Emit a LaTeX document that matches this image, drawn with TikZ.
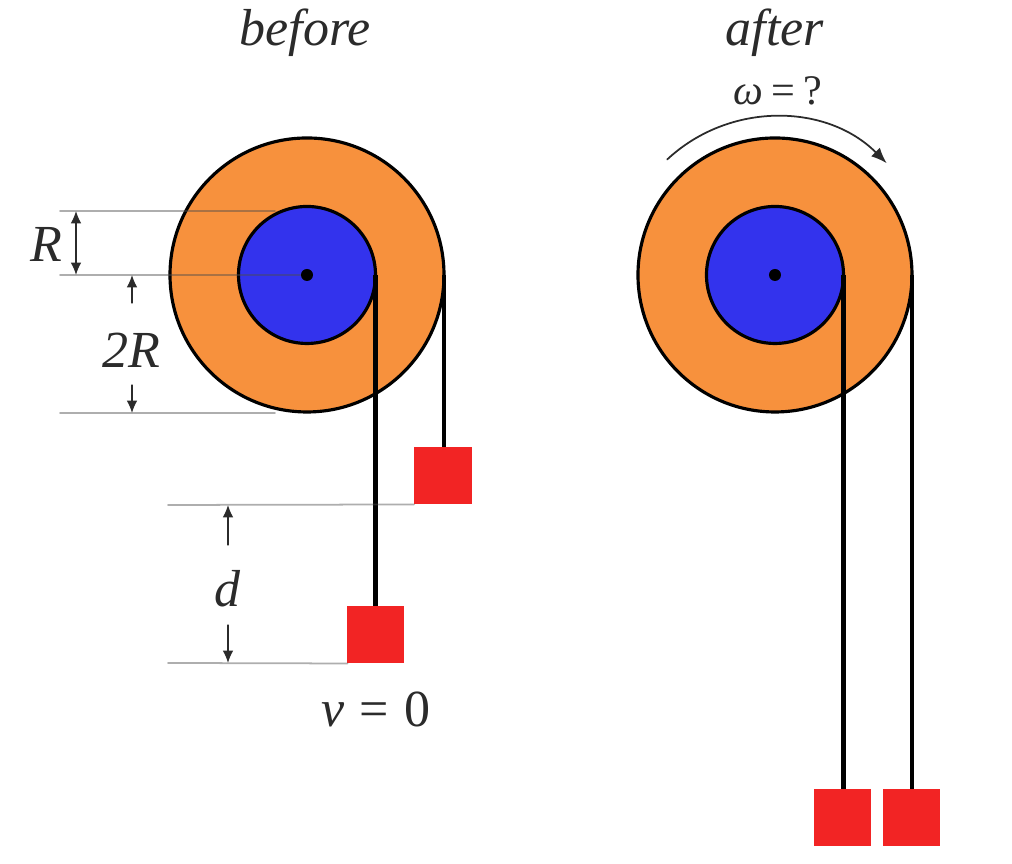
\documentclass[tikz,border=0pt]{standalone}
\usepackage{fontspec}
\setmainfont{Liberation Serif}
\usepackage{tikz}
\usetikzlibrary{arrows.meta}
\usetikzlibrary{positioning}
\definecolor{diskorange}{rgb}{0.97,0.57,0.24}
\definecolor{diskblue}{rgb}{0.2,0.2,0.93}
\definecolor{massred}{rgb}{0.95,0.14,0.14}
\definecolor{inkgray}{rgb}{0.17,0.17,0.17}
\tikzset{
  outerdisk/.style={circle,draw=black,line width=0.9pt,fill=diskorange,minimum size=2.74cm,inner sep=0pt,outer sep=0pt},
  innerdisk/.style={circle,draw=black,line width=0.9pt,fill=diskblue,minimum size=1.37cm,inner sep=0pt,outer sep=0pt},
  hub/.style={circle,fill=black,minimum size=0.12cm,inner sep=0pt},
  mass/.style={fill=massred,minimum width=0.57cm,minimum height=0.57cm,inner sep=0pt,outer sep=0pt},
  rope/.style={line width=1.15pt,black,line cap=butt},
  guide/.style={line width=0.5pt,black!70,opacity=0.45},
  dim/.style={line width=0.35pt,inkgray,-{Latex[length=3.5pt,width=3pt]}},
  lab/.style={text=inkgray,font=\fontsize{14.8}{16}\selectfont\itshape,inner sep=0pt},
}
\begin{document}
\begin{tikzpicture}[line cap=round,line join=round]
\useasboundingbox (0,0) rectangle (10.12,8.64);
% before
\node [outerdisk] (outerL) at (3.07,5.89) {};
\node [innerdisk] (innerL) at (3.07,5.89) {};
\node [hub] (hubL) at (3.07,5.89) {};
\node [mass,minimum width=0.58cm] (massA) at (4.43,3.88) {};
\node [mass] (massB) at (3.76,2.29) {};
\draw [rope] (outerL.east) -- (outerL.east |- massA.north);
\draw [rope] (innerL.east) -- (innerL.east |- massB.north);
% after
\node [outerdisk] (outerR) at (7.75,5.89) {};
\node [innerdisk] (innerR) at (7.75,5.89) {};
\node [hub] (hubR) at (7.75,5.89) {};
\node [mass] (massC) at (8.43,0.46) {};
\node [mass] (massD) at (9.115,0.46) {};
\draw [rope] (innerR.east) -- (innerR.east |- massC.north);
\draw [rope] (outerR.east) -- (outerR.east |- massD.north);
% guide lines
\coordinate (rTop) at (0.6,6.53);
\coordinate (rMid) at (0.6,5.89);
\coordinate (rLow) at (0.6,4.51);
\coordinate (dTop) at (1.68,3.59);
\coordinate (dLow) at (1.68,2.01);
\draw [guide] (rTop) -- (2.75,6.53);
\draw [guide] (rMid) -- (hubL);
\draw [guide] (rLow) -- (2.75,4.51);
\draw [guide] (dTop) -- (massA.south west);
\draw [guide] (dLow) -- (massB.south west);
% dimensions
\coordinate (rA) at (0.76,6.53);
\coordinate (rB) at (0.76,5.89);
\draw [dim,{Latex[length=3.5pt,width=3pt]}-{Latex[length=3.5pt,width=3pt]}] (rA) -- (rB);
\node [lab] (labR) at (0.46,6.2) {R};
\node [lab] (lab2R) at (1.31,5.14) {2R};
\coordinate (tA) at (1.32,5.89);
\coordinate (tB) at (1.32,4.51);
\draw [dim] (1.32,5.61) -- (tA);
\draw [dim] (1.32,4.79) -- (tB);
\node [lab] (labd) at (2.28,2.75) {d};
\coordinate (uA) at (2.28,3.59);
\coordinate (uB) at (2.28,2.01);
\draw [dim] (2.28,3.19) -- (uA);
\draw [dim] (2.28,2.39) -- (uB);
% labels
\node [lab] (before) at (3.05,8.31) {before};
\node [lab] (after) at (7.75,8.31) {after};
\node [lab,font=\fontsize{12}{13}\selectfont\itshape] (omega) at (7.78,7.73) {ω\hspace{0.2em}\textup{=\hspace{0.2em}?}};
\node [lab] (vzero) at (3.76,1.55) {v\hspace{0.3em}\textup{=\hspace{0.3em}0}};
% rotation arrow
\draw [line width=0.5pt,inkgray,-{Latex[length=4.5pt,width=3.5pt]}] (7.75,5.89) ++(133:1.58) arc [start angle=133,end angle=45,radius=1.58];
\end{tikzpicture}
\end{document}
